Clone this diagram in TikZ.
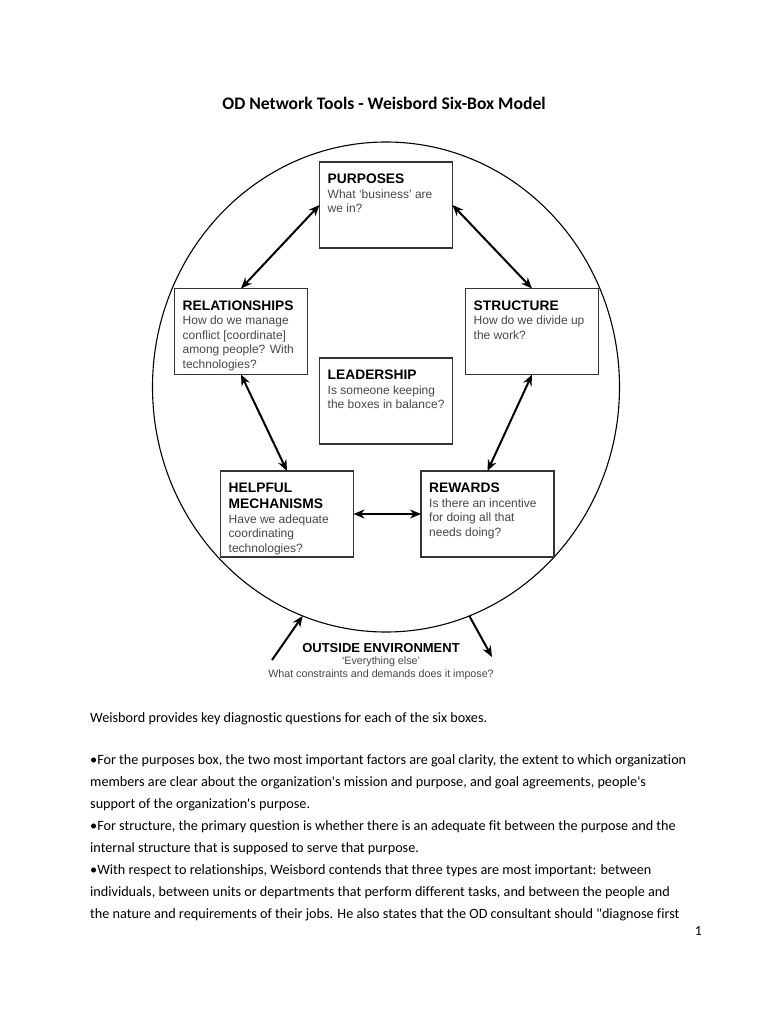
\documentclass[tikz,border=0pt]{standalone}
\usepackage{fontspec}
\setmainfont{Carlito}
\newfontfamily\docfont{Carlito}[Ligatures=NoCommon]
\newfontfamily\arialfont{Liberation Sans}
\usetikzlibrary{arrows.meta,shapes.geometric}
\newcommand\boxhead{\bfseries\color{black}\fontsize{13.8}{14.5}\selectfont}

\begin{document}
\begin{tikzpicture}[x=1pt,y=-1pt,
  sixbox/.style={draw=black!80,line width=1.2pt,minimum width=133pt,minimum height=86pt,inner sep=0pt,outer sep=0pt},
  boxtext/.style={anchor=north west,inner sep=0pt,align=left,text=black!72,font=\arialfont\fontsize{12}{14.5}\selectfont},
  link/.style={line width=2pt,{Stealth[length=11pt,width=9pt]}-{Stealth[length=11pt,width=9pt]}},
  outlink/.style={line width=2pt,-{Stealth[length=11pt,width=9pt]}},
  bodytext/.style={anchor=base west,inner sep=0pt,font=\docfont\fontsize{14.2}{16}\selectfont}]

\fill[white] (0,0) rectangle (768,1024);
\useasboundingbox (0,0) rectangle (768,1024);

% title
\node[anchor=base,inner sep=0pt,font=\docfont\bfseries\fontsize{17.6}{20}\selectfont] (title) at (384,110) {OD Network Tools - Weisbord Six-Box Model};

% environment circle
\node[ellipse,draw,line width=1.1pt,minimum width=467pt,minimum height=490pt,inner sep=0pt,outer sep=0pt] (env) at (386,387) {};

% six boxes
\node[sixbox] (purp) at (386,205) {};
\node[sixbox] (rel) at (241,331.5) {};
\node[sixbox] (struct) at (532,331.5) {};
\node[sixbox] (lead) at (386,401) {};
\node[sixbox] (help) at (287,514) {};
\node[sixbox] (rew) at (487.5,514) {};

\node[boxtext] (purp-t) at ([xshift=8pt,yshift=-12pt]purp.north west) {{\boxhead PURPOSES}\\What ‘business’ are\\we in?};
\node[boxtext] (rel-t) at ([xshift=8pt,yshift=-12pt]rel.north west) {{\boxhead RELATIONSHIPS}\\How do we manage\\conflict [coordinate]\\among people? With\\technologies?};
\node[boxtext] (struct-t) at ([xshift=8pt,yshift=-12pt]struct.north west) {{\boxhead STRUCTURE}\\How do we divide up\\the work?};
\node[boxtext] (lead-t) at ([xshift=8pt,yshift=-12pt]lead.north west) {{\boxhead LEADERSHIP}\\Is someone keeping\\the boxes in balance?};
\node[boxtext] (help-t) at ([xshift=8pt,yshift=-12pt]help.north west) {{\boxhead HELPFUL}\\[1.5pt]{\boxhead MECHANISMS}\\Have we adequate\\coordinating\\technologies?};
\node[boxtext] (rew-t) at ([xshift=8pt,yshift=-12pt]rew.north west) {{\boxhead REWARDS}\\Is there an incentive\\for doing all that\\needs doing?};

% links between the boxes
\draw[link] (purp.west) -- (rel.north);
\draw[link] (purp.east) -- (struct.north);
\draw[link] (rel.south) -- (help.north);
\draw[link] (struct.south) -- (rew.north);
\draw[link] (help.east) -- (rew.west);

% outside environment
\coordinate (envin) at (272,660);
\coordinate (envout) at (492,657);
\draw[outlink] (envin) -- (env.250);
\draw[outlink] (env.290) -- (envout);
\node[anchor=north,inner sep=0pt,align=center,text=black!72,font=\arialfont\fontsize{10.7}{12.5}\selectfont] (env-t) at (381,643)
  {{\bfseries\color{black}\fontsize{13}{12.5}\selectfont OUTSIDE ENVIRONMENT}\\‘Everything else’\\What constraints and demands does it impose?};

% text below
\node[bodytext] (intro) at (90,722) {Weisbord provides key diagnostic questions for each of the six boxes.};
\foreach \txt [count=\i] in {
  {•For the purposes box, the two most important factors are goal clarity, the extent to which organization},
  {members are clear about the organization's mission and purpose, and goal agreements, people's},
  {support of the organization's purpose.},
  {•For structure, the primary question is whether there is an adequate fit between the purpose and the},
  {internal structure that is supposed to serve that purpose.},
  {•With respect to relationships, Weisbord contends that three types are most important: between},
  {individuals, between units or departments that perform different tasks, and between the people and},
  {the nature and requirements of their jobs. He also states that the OD consultant should "diagnose first}}
  \node[bodytext] (line\i) at (90,742+22*\i) {\txt};

\node[anchor=base east,inner sep=0pt,font=\docfont\fontsize{13.8}{16}\selectfont] (pagenum) at (702,935) {1};
\end{tikzpicture}
\end{document}
